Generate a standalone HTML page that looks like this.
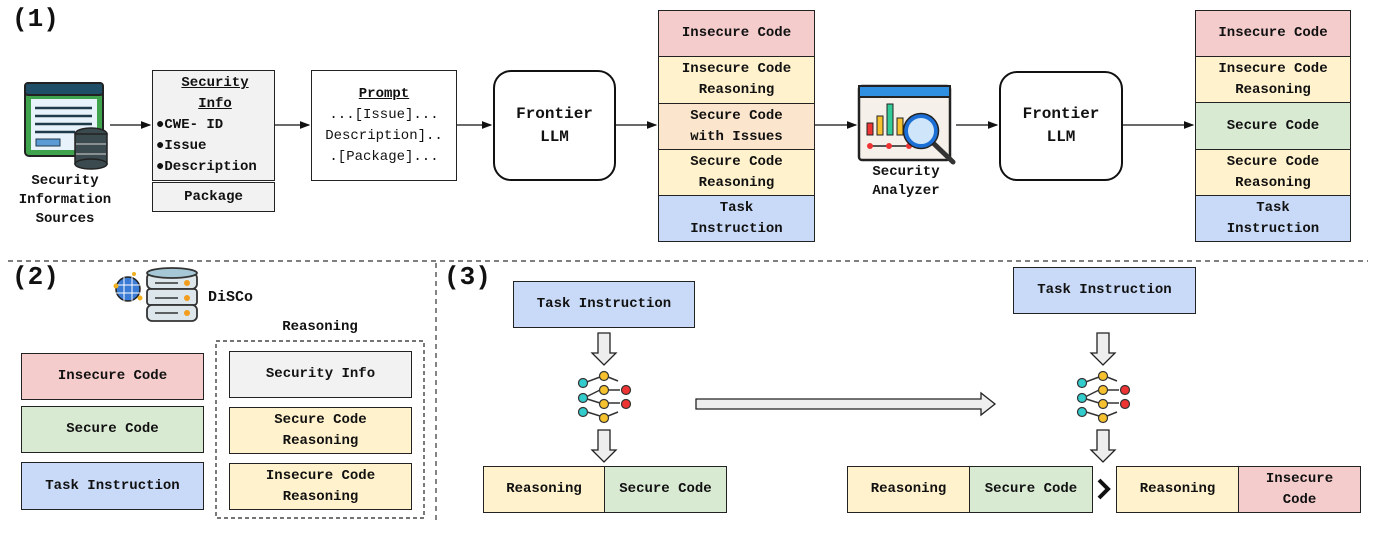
<!DOCTYPE html>
<html><head><meta charset="utf-8"><style>
body{margin:0;width:1377px;height:554px;background:#fff;position:relative;overflow:hidden;font-family:"Liberation Mono","DejaVu Sans Mono",monospace;font-weight:bold;font-size:14px;color:#111}
.b{position:absolute;box-sizing:border-box;border:1.5px solid #222;display:flex;align-items:center;justify-content:center;text-align:center;line-height:21px}
.t{position:absolute;line-height:19px;text-align:center}
.r{background:#f4cccc}.y{background:#fff2cc}.o{background:#fce5cd}.g{background:#d9ead3}.u{background:#c9daf8}.w{background:#f2f2f2}
.h{position:absolute;font-size:26px;font-weight:bold}
</style></head><body>
<div class="h" style="left:12px;top:4px">(1)</div>
<div class="h" style="left:12px;top:262px">(2)</div>
<div class="h" style="left:444px;top:262px">(3)</div>

<svg width="1377" height="554" style="position:absolute;left:0;top:0">
<defs><marker id="a" markerWidth="8" markerHeight="8" refX="7" refY="4" orient="auto"><path d="M0,1 L8,4 L0,7z" fill="#111"/></marker>
<g id="net">
<g stroke="#333" stroke-width="1.5" fill="none">
<path d="M6,12 L22,6 M6,27 L22,19 M6,27 L22,32 M6,40 L22,45 M30,6 L40,10 M30,19 L42,19 M30,32 L42,32 M30,45 L40,41"/></g>
<g stroke="#333" stroke-width="1.2"><circle cx="5" cy="12" r="4.5" fill="#3cc"/><circle cx="5" cy="27" r="4.5" fill="#3cc"/><circle cx="5" cy="41" r="4.5" fill="#3cc"/>
<circle cx="26" cy="5" r="4.5" fill="#f5c12e"/><circle cx="26" cy="19" r="4.5" fill="#f5c12e"/><circle cx="26" cy="33" r="4.5" fill="#f5c12e"/><circle cx="26" cy="47" r="4.5" fill="#f5c12e"/>
<circle cx="48" cy="19" r="4.5" fill="#e33"/><circle cx="48" cy="33" r="4.5" fill="#e33"/></g></g>
<path id="da" d="M-6,0 H6 V20 H12 L0,32 L-12,20 H-6Z" fill="#eee" stroke="#222" stroke-width="1.3"/>
</defs>
<g stroke="#111" stroke-width="1.3" marker-end="url(#a)">
<line x1="110" y1="125" x2="150" y2="125"/><line x1="275" y1="125" x2="309" y2="125"/><line x1="457" y1="125" x2="491" y2="125"/>
<line x1="616" y1="125" x2="656" y2="125"/><line x1="815" y1="125" x2="856" y2="125"/><line x1="956" y1="125" x2="997" y2="125"/><line x1="1123" y1="125" x2="1193" y2="125"/>
</g>
<line x1="8" y1="261" x2="1368" y2="261" stroke="#333" stroke-width="1.2" stroke-dasharray="5,4"/>
<line x1="436" y1="263" x2="436" y2="522" stroke="#333" stroke-width="1.2" stroke-dasharray="5,4"/>
<rect x="216" y="341" width="208" height="177" fill="none" stroke="#222" stroke-width="1.2" stroke-dasharray="4,3"/>
<!-- security info source icon -->
<rect x="25" y="83" width="78" height="73" rx="4" fill="#3fa34d" stroke="#222" stroke-width="2"/>
<rect x="25" y="83" width="78" height="12" rx="3" fill="#1f4e66" stroke="#222" stroke-width="2"/>
<rect x="31" y="99" width="66" height="51" fill="#e8f2fb"/>
<g stroke="#1f3a4a" stroke-width="2.5"><line x1="35" y1="108" x2="92" y2="108"/><line x1="35" y1="116" x2="92" y2="116"/><line x1="35" y1="124" x2="92" y2="124"/><line x1="35" y1="132" x2="75" y2="132"/></g>
<rect x="36" y="139" width="24" height="7" fill="#5b9bd5" stroke="#1f3a4a"/>
<g fill="#3a4a4f" stroke="#222" stroke-width="1.5"><ellipse cx="91" cy="134" rx="16" ry="6"/><rect x="75" y="134" width="32" height="30"/><ellipse cx="91" cy="164" rx="16" ry="5"/></g>
<g stroke="#bbb" stroke-width="1.3"><line x1="76" y1="144" x2="106" y2="144"/><line x1="76" y1="154" x2="106" y2="154"/></g>
<!-- analyzer icon -->
<rect x="859" y="86" width="91" height="74" rx="3" fill="#f5f0ea" stroke="#222" stroke-width="2.5"/>
<rect x="859" y="86" width="91" height="11" fill="#2f8fe0" stroke="#222" stroke-width="2"/>
<g stroke="#222" stroke-width="1"><rect x="867" y="123" width="6" height="12" fill="#e33"/><rect x="877" y="116" width="6" height="19" fill="#f5c12e"/><rect x="887" y="104" width="6" height="31" fill="#3c9"/><rect x="897" y="118" width="6" height="17" fill="#f5c12e"/></g>
<line x1="868" y1="146" x2="912" y2="146" stroke="#222" stroke-width="1.5"/>
<g fill="#e33"><circle cx="870" cy="146" r="3"/><circle cx="889" cy="146" r="3"/><circle cx="909" cy="146" r="3"/></g>
<line x1="930" y1="140" x2="953" y2="162" stroke="#333" stroke-width="5" stroke-linecap="round"/>
<circle cx="921" cy="131" r="15" fill="#cfe6fa" stroke="#1c6fd6" stroke-width="4"/>
<circle cx="921" cy="131" r="17.5" fill="none" stroke="#222" stroke-width="1.5"/>
<!-- disco icon -->
<circle cx="128" cy="289" r="12" fill="#3a7bd5" stroke="#222" stroke-width="1.5"/>
<g stroke="#fff" stroke-width="1"><line x1="116" y1="285" x2="140" y2="285"/><line x1="116" y1="293" x2="140" y2="293"/><line x1="124" y1="277" x2="124" y2="301"/><line x1="132" y1="277" x2="132" y2="301"/></g>
<g fill="#f0b020"><circle cx="116" cy="286" r="2.5"/><circle cx="140" cy="298" r="2.5"/><circle cx="134" cy="274" r="2"/></g>
<g fill="#dde6ea" stroke="#333" stroke-width="1.8"><rect x="147" y="273" width="50" height="16" rx="5"/><rect x="147" y="289" width="50" height="16" rx="3"/><rect x="147" y="305" width="50" height="16" rx="5"/></g>
<ellipse cx="172" cy="273" rx="25" ry="5" fill="#a6c8d6" stroke="#333" stroke-width="1.8"/>
<g stroke="#333" stroke-width="1.5"><line x1="155" y1="283" x2="178" y2="283"/><line x1="155" y1="298" x2="178" y2="298"/><line x1="155" y1="313" x2="178" y2="313"/></g>
<g fill="#f29d1b"><circle cx="187" cy="283" r="3"/><circle cx="187" cy="298" r="3"/><circle cx="187" cy="313" r="3"/></g>
<!-- flow arrows section 3 -->
<use href="#da" x="604" y="333"/><use href="#da" x="604" y="430"/>
<use href="#da" x="1103" y="333"/><use href="#da" x="1103" y="430"/>
<use href="#net" x="578" y="371"/><use href="#net" x="1077" y="371"/>
<path d="M696,399 H981 V393 L995,404 L981,415 V409 H696Z" fill="#eee" stroke="#222" stroke-width="1.3"/>
<path d="M1099,480 L1108,489 L1099,498" fill="none" stroke="#111" stroke-width="4"/>
</svg>

<div class="t" style="left:10px;top:172px;width:110px">Security<br>Information<br>Sources</div>
<div class="b w" style="left:152px;top:70px;width:123px;height:111px;display:block;text-align:left;padding:2px 0 0 3px"><div style="text-align:center;text-decoration:underline">Security<br>Info</div>●CWE- ID<br>●Issue<br>●Description</div>
<div class="b w" style="left:152px;top:182px;width:123px;height:30px">Package</div>
<div class="b" style="left:311px;top:70px;width:146px;height:111px;display:block;padding-top:13px;font-weight:normal"><div style="font-weight:bold;text-decoration:underline">Prompt</div>...[Issue]...<br>Description]..<br>.[Package]...</div>
<div class="b" style="left:493px;top:70px;width:123px;height:111px;border:2.5px solid #111;border-radius:18px;font-size:16px;line-height:23px">Frontier<br>LLM</div>
<div class="b" style="left:999px;top:71px;width:124px;height:110px;border:2.5px solid #111;border-radius:18px;font-size:16px;line-height:23px">Frontier<br>LLM</div>

<div class="b r" style="left:658px;top:10px;width:157px;height:47px">Insecure Code</div>
<div class="b y" style="left:658px;top:56px;width:157px;height:48px">Insecure Code<br>Reasoning</div>
<div class="b o" style="left:658px;top:103px;width:157px;height:47px">Secure Code<br>with Issues</div>
<div class="b y" style="left:658px;top:149px;width:157px;height:47px">Secure Code<br>Reasoning</div>
<div class="b u" style="left:658px;top:195px;width:157px;height:47px">Task<br>Instruction</div>

<div class="t" style="left:851px;top:163px;width:110px">Security<br>Analyzer</div>

<div class="b r" style="left:1195px;top:10px;width:156px;height:47px">Insecure Code</div>
<div class="b y" style="left:1195px;top:56px;width:156px;height:47px">Insecure Code<br>Reasoning</div>
<div class="b g" style="left:1195px;top:102px;width:156px;height:48px">Secure Code</div>
<div class="b y" style="left:1195px;top:149px;width:156px;height:47px">Secure Code<br>Reasoning</div>
<div class="b u" style="left:1195px;top:195px;width:156px;height:47px">Task<br>Instruction</div>

<div class="t" style="left:208px;top:288px;font-size:15px">DiSCo</div>
<div class="t" style="left:270px;top:318px;width:100px">Reasoning</div>
<div class="b r" style="left:21px;top:353px;width:183px;height:47px">Insecure Code</div>
<div class="b g" style="left:21px;top:406px;width:183px;height:47px">Secure Code</div>
<div class="b u" style="left:21px;top:462px;width:183px;height:48px">Task Instruction</div>
<div class="b w" style="left:229px;top:351px;width:183px;height:47px">Security Info</div>
<div class="b y" style="left:229px;top:407px;width:183px;height:47px">Secure Code<br>Reasoning</div>
<div class="b y" style="left:229px;top:463px;width:183px;height:47px">Insecure Code<br>Reasoning</div>

<div class="b u" style="left:513px;top:281px;width:182px;height:47px">Task Instruction</div>
<div class="b y" style="left:483px;top:466px;width:122px;height:47px">Reasoning</div>
<div class="b g" style="left:604px;top:466px;width:123px;height:47px">Secure Code</div>

<div class="b u" style="left:1013px;top:267px;width:183px;height:47px">Task Instruction</div>
<div class="b y" style="left:847px;top:466px;width:123px;height:47px">Reasoning</div>
<div class="b g" style="left:969px;top:466px;width:124px;height:47px">Secure Code</div>
<div class="b y" style="left:1116px;top:466px;width:123px;height:47px">Reasoning</div>
<div class="b r" style="left:1238px;top:466px;width:123px;height:47px">Insecure<br>Code</div>
</body></html>
